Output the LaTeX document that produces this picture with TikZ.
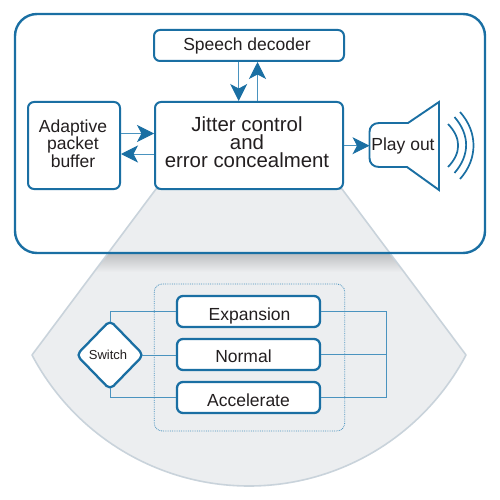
\documentclass[tikz,border=0pt]{standalone}
\usepackage{fontspec}
\setmainfont{Liberation Sans}
\usetikzlibrary{arrows.meta}
\definecolor{bl}{HTML}{1A6FA3}
\definecolor{thin}{HTML}{4A93BF}
\definecolor{fanfill}{HTML}{ECEEF0}
\definecolor{fanedge}{HTML}{C9D3DB}
\definecolor{ink}{HTML}{231F20}
\tikzset{
  x=1pt,y=-1pt,
  box/.style={draw=bl,line width=2pt,fill=white,rounded corners=6pt,inner sep=0pt},
  lowbox/.style={box,line width=2.3pt,minimum width=143pt,minimum height=31pt},
  conn/.style={draw=thin,line width=0.9pt},
  arr/.style={conn,-{Stealth[length=17pt,width=17pt,inset=4.5pt,color=bl]}},
  wave/.style={draw=bl,line width=1.7pt},
  label/.style={inner sep=0pt,text=ink,font=\fontsize{17.5}{17.5}\selectfont,align=center}
}
\begin{document}
\begin{tikzpicture}
\useasboundingbox (0,0) rectangle (499,500);
% outer box
\node[draw=none,fill=white,rounded corners=22pt,minimum width=470pt,minimum height=239pt,inner sep=0pt] (outerbg) at (250,133.5) {};
% fan
\def\fanpath{(156,189) -- (32,355) .. controls (74.5,435.5) and (157.9,486) .. (249,486) .. controls (340.1,486) and (423.5,435.5) .. (466,355) -- (342,189) -- cycle}
\fill[fanfill] \fanpath;
\begin{scope}
\clip \fanpath;
\shade[top color=black!20!fanfill,middle color=black!6!fanfill,bottom color=fanfill] (0,253) rectangle (499,272);
\end{scope}
\draw[fanedge,line width=1.6pt,line join=round] \fanpath;
\node[draw=bl,line width=2.4pt,rounded corners=22pt,minimum width=470pt,minimum height=239pt,inner sep=0pt] (outer) at (250,133.5) {};
% top boxes
\node[box,minimum width=190pt,minimum height=31pt] (dec) at (249,45.5) {};
\node[label] (dectxt) at (247,45.5) {Speech decoder};
\node[box,minimum width=92pt,minimum height=87pt] (buf) at (74,145.5) {};
\node[label] (buftxt) at (73,143.5) {Adaptive\\packet\\buffer};
\node[box,minimum width=188pt,minimum height=87pt] (jit) at (249,145.5) {};
\node[label,font=\fontsize{20.4}{18}\selectfont] (jittxt) at (247,142.5) {Jitter control\\and\\error concealment};
% speaker
\draw[draw=bl,line width=1.9pt,fill=white,line join=miter]
  (379,123) -- (408,123) -- (439,102) -- (439,190) -- (407,167) -- (379,167)
  .. controls (373,167) and (369.5,163) .. (369.5,158) -- (369.5,132)
  .. controls (369.5,127) and (373,123) .. (379,123) -- cycle;
\node[label] (play) at (403,145.5) {Play out};
\coordinate (spk) at (369.5,145.7);
\draw[wave] (448,124) .. controls (461.5,138) and (461.5,153) .. (448,167);
\draw[wave] (454.5,117) .. controls (470,135) and (470,155) .. (454.5,173);
\draw[wave] (460,112) .. controls (478,132) and (478,159) .. (460,179);
% arrows
\coordinate (xa) at (238.7,0);
\coordinate (xb) at (257.5,0);
\coordinate (ya) at (0,133.5);
\coordinate (yb) at (0,154);
\draw[arr] (dec.south -| xa) -- (jit.north -| xa);
\draw[arr] (jit.north -| xb) -- (dec.south -| xb);
\draw[arr] (buf.east |- ya) -- (jit.west |- ya);
\draw[arr] (jit.west |- yb) -- (buf.east |- yb);
\draw[arr] (jit.east |- spk) -- (spk);
% lower part
\node[draw=thin,line width=0.8pt,densely dotted,rounded corners=8pt,minimum width=190.5pt,minimum height=147pt,inner sep=0pt] (group) at (249.5,357.5) {};
\node[lowbox] (exp) at (248.5,311.5) {};
\node[label] (exptxt) at (249.5,315.5) {Expansion};
\node[lowbox] (nor) at (248.5,354.5) {};
\node[label] (nortxt) at (243.5,356.5) {Normal};
\node[lowbox] (acc) at (248.5,397.5) {};
\node[label] (acctxt) at (248.5,400) {Accelerate};
\draw[draw=bl,line width=2.3pt,fill=white,line join=round,rounded corners=5pt]
  (110,320.5) -- (143.5,355) -- (110,389.5) -- (76.5,355) -- cycle;
\node[inner sep=0pt,text=ink,font=\fontsize{13}{13}\selectfont] (sw) at (108,355) {Switch};
\coordinate (swt) at (110,322);
\coordinate (swb) at (110,388);
\coordinate (swr) at (142,355);
\coordinate (bus) at (386.7,355);
\draw[conn] (swt) |- (exp.west);
\draw[conn] (swr) -- (nor.west |- swr);
\draw[conn] (swb) |- (acc.west);
\draw[conn] (exp.east) -| (bus) |- (acc.east);
\draw[conn] (nor.east) -- (bus |- nor.east);
\end{tikzpicture}
\end{document}
